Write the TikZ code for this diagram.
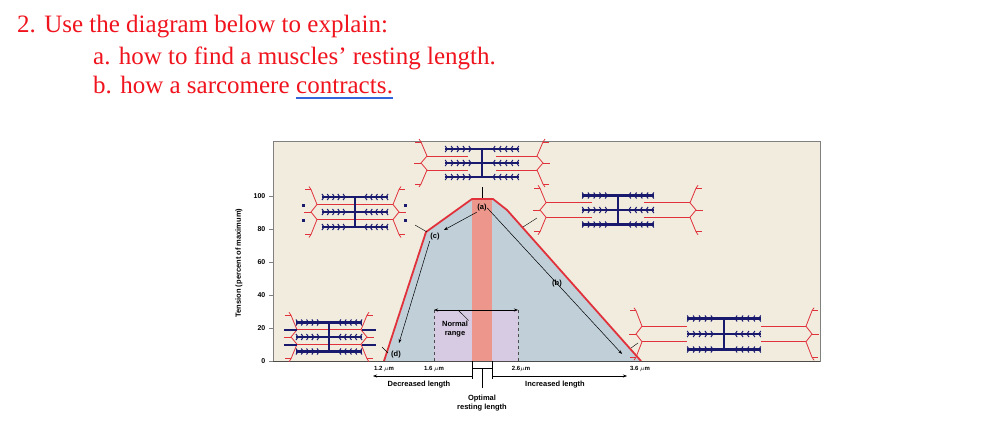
\documentclass[tikz,border=0pt]{standalone}
\usepackage{fontspec}
\setmainfont{Liberation Serif}
\newfontfamily\hv{Liberation Sans}
\usetikzlibrary{arrows.meta}
\definecolor{ttl}{RGB}{240,20,30}
\definecolor{bg}{RGB}{241,236,222}
\definecolor{area}{RGB}{192,207,216}
\definecolor{band}{RGB}{236,150,140}
\definecolor{nr}{RGB}{214,203,226}
\definecolor{navy}{RGB}{25,25,110}
\definecolor{thinred}{RGB}{225,50,60}
\definecolor{ulc}{RGB}{50,100,220}
\tikzset{lbl/.style={font=\hv\bfseries\fontsize{7.5}{8.5}\selectfont,inner sep=0.5pt},
small/.style={font=\hv\bfseries\fontsize{6}{7}\selectfont,inner sep=0.5pt},
thinf/.style={draw=thinred,line width=0.8pt},
thickf/.style={draw=navy,line width=2.6pt},
head/.style={draw=navy,line width=1pt},
lead/.style={draw=black,line width=0.4pt},
ttlf/.style={anchor=base west,text=ttl,font=\fontsize{25}{28}\selectfont,inner sep=0},
arr/.style={draw=black,line width=0.5pt,-{Stealth[length=4pt,width=3pt]}}}
% cx, cy, L, D, T, s
\newcommand\sarc[6]{%
 \foreach \sg in {-1,1}{
  \foreach \yy in {-0.5,0.5}{
   \draw[thinf] ({#1+\sg*(#4)},{#2+\yy*(#6)}) -- ({#1+\sg*(#5)},{#2+\yy*(#6)});}
  \draw[thinf] ({#1+\sg*(#4+6)},{#2-1.5*(#6)}) -- ({#1+\sg*(#4)},{#2-0.5*(#6)}) -- ({#1+\sg*(#4+6)},{#2}) -- ({#1+\sg*(#4)},{#2+0.5*(#6)}) -- ({#1+\sg*(#4+6)},{#2+1.5*(#6)});
  \draw[thinf] ({#1+\sg*(#4+6)},{#2}) -- ({#1+\sg*(#4+13)},{#2});
  \draw[thinf] ({#1+\sg*(#4+6)},{#2-1.5*(#6)}) -- ({#1+\sg*(#4+8)},{#2-1.5*(#6)-3});
  \draw[thinf] ({#1+\sg*(#4+6)},{#2+1.5*(#6)}) -- ({#1+\sg*(#4+8)},{#2+1.5*(#6)+3});
  \draw[thinf] ({#1+\sg*(#4+6)},{#2-1.5*(#6)}) -- ({#1+\sg*(#4+12)},{#2-1.5*(#6)});
  \draw[thinf] ({#1+\sg*(#4+6)},{#2+1.5*(#6)}) -- ({#1+\sg*(#4+12)},{#2+1.5*(#6)});
 }
 \foreach \yy in {-1,0,1}{
  \draw[thickf] ({#1-(#3)},{#2+\yy*(#6)}) -- ({#1+(#3)},{#2+\yy*(#6)});
  \foreach \sg in {-1,1}{\foreach \k in {0.3,0.46,0.62,0.78,0.94}{
   \draw[head] ({#1+\sg*\k*(#3)},{#2+\yy*(#6)}) -- ({#1+\sg*\k*(#3)+\sg*2},{#2+\yy*(#6)-3});
   \draw[head] ({#1+\sg*\k*(#3)},{#2+\yy*(#6)}) -- ({#1+\sg*\k*(#3)+\sg*2},{#2+\yy*(#6)+3});}}
 }
 \draw[navy,line width=2.6pt] (#1,{#2-(#6)}) -- (#1,{#2+(#6)});
}
\begin{document}
\begin{tikzpicture}[x=1pt,y=-1pt]
\useasboundingbox (0,0) rectangle (1001,436);
\fill[white] (0,0) rectangle (1001,436);
% title
\node[ttlf] (t1) at (17,33) {2. Use the diagram below to explain:};
\node[ttlf] (t2) at (93,65) {a. how to find a muscles’ resting length.};
\node[ttlf] (t3) at (93,93) {b. how a sarcomere};
\node[ttlf,anchor=base west,xshift=6.2pt] (t3b) at (t3.base east) {contracts};
\node[ttlf,anchor=base west] (t3c) at (t3b.base east) {.};
\draw[ulc,line width=1.6pt] ([yshift=-5pt]t3b.base west) -- ([yshift=-5pt]t3c.base east);
% panel
\fill[bg,draw=gray,line width=0.6pt] (273,141) rectangle (820,361);
\fill[area] (384,361) -- (426,232) -- (472,199) -- (493,199) -- (507,210) -- (641,361) -- cycle;
\fill[nr] (434,310) rectangle (518,361);
\draw[dashed,gray!60!black,line width=0.4pt] (434,310) -- (434,361) (518,310) -- (518,361);
\fill[band] (472,199) rectangle (492,361);
\draw[thinred,line width=1.8pt,line join=round] (384,361) -- (426,232) -- (472,199) -- (493,199) -- (507,210) -- (641,361);
\draw[gray!60!black,line width=0.7pt] (273,361) -- (820,361);
% y axis
\foreach \v/\yy in {100/196,80/229,60/262,40/295,20/328,0/361}{
 \draw[gray,line width=0.4pt] (269,\yy) -- (273,\yy);
 \node[lbl,font=\hv\bfseries\fontsize{7}{8}\selectfont,anchor=east] (y\v) at (266,\yy) {\v};}
\node[lbl,rotate=90] (ylab) at (239,263) {Tension (percent of maximum)};
% normal range
\coordinate (nrl) at (434,310); \coordinate (nrr) at (518,310);
\draw[black,line width=0.5pt,{Stealth[length=4pt,width=3pt]}-{Stealth[length=4pt,width=3pt]}] (nrl) -- (nrr);
\node[lbl,align=center] (nrt) at (455,329) {Normal\\range};
\draw[lead] (nrt.north east) -- (458,310);
% labels
\node[lbl] (a) at (482,208) {(a)};
\node[lbl] (c) at (435,237) {(c)};
\node[lbl] (b) at (557,284) {(b)};
\node[lbl] (d) at (396,355) {(d)};
\coordinate (ca) at (444,230); \coordinate (cb) at (622,354); \coordinate (cd) at (399,343);
\draw[arr] (a.south west) -- (ca);
\draw[arr] (a.east) -- (cb);
\draw[arr] (c.south west) -- (cd);
% leaders
\coordinate (la1) at (482,187); \coordinate (la2) at (482,198);
\draw[lead] (la1) -- (la2);
\coordinate (lc1) at (415,225); \coordinate (lc2) at (427,232);
\draw[lead] (lc1) -- (lc2);
\coordinate (lb1) at (523,227); \coordinate (lb2) at (537,218);
\draw[lead] (lb1) -- (lb2);
\coordinate (ld1) at (382,347); \coordinate (ld2) at (388,353);
\draw[lead] (ld1) -- (ld2);
\coordinate (le1) at (631,348); \coordinate (le2) at (638,343);
\draw[lead] (le1) -- (le2);
% x labels
\node[small] (x1) at (384,369) {1.2 $\mu$m};
\node[small] (x2) at (434,369) {1.6 $\mu$m};
\node[small] (x3) at (521,369) {2.6$\mu$m};
\node[small] (x4) at (640,369) {3.6 $\mu$m};
\draw[white,fill=white] (473,362) rectangle (491,368);
\draw[black,line width=0.4pt] (472,361) -- (472,379) (492,361) -- (492,379) (472,368) -- (492,368) (482,368) -- (482,388);
\coordinate (dl) at (373,376); \coordinate (il) at (627,376);
\coordinate (dl0) at (472,376); \coordinate (il0) at (492,376);
\draw[arr] (dl0) -- (dl);
\draw[arr] (il0) -- (il);
\node[lbl] (dec) at (419,385) {Decreased length};
\node[lbl] (inc) at (555,385) {Increased length};
\node[lbl,align=center] (opt) at (482,403) {Optimal\\resting length};
% sarcomeres
\sarc{482}{163}{37}{55}{14}{14}
\sarc{355}{212}{33}{38}{-12}{15}
\sarc{618}{210}{36}{72}{26}{14.5}
\sarc{724}{334}{37}{82}{37}{15.5}
\sarc{329}{337}{33}{32}{-25}{14.5}
\foreach \xx in {303,405}{\foreach \yy in {205,220}{\fill[navy] (\xx-1.5,\yy-1.5) rectangle (\xx+1.5,\yy+1.5);}}
\foreach \xx/\ee in {297/284,362/376}{\foreach \yy in {330,345}{\draw[thickf] (\xx,\yy) -- (\ee,\yy);}}
\end{tikzpicture}
\end{document}
